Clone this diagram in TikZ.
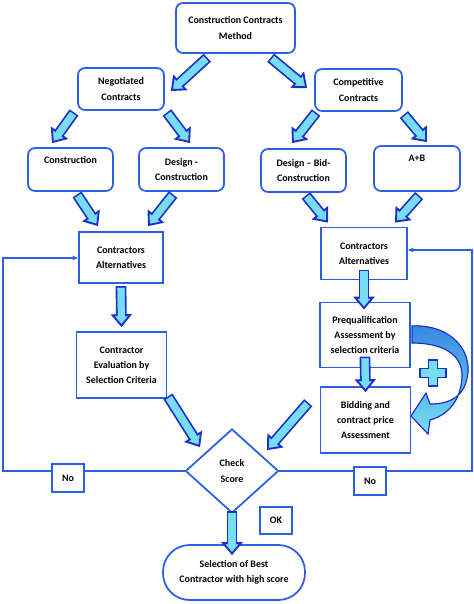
\documentclass[tikz,border=0pt]{standalone}
\usepackage{fontspec}
\setmainfont{Carlito}
\usetikzlibrary{arrows.meta,shapes.geometric}
\definecolor{boxblue}{RGB}{45,95,230}
\definecolor{arrblue}{RGB}{25,50,200}
\definecolor{arrcyan}{RGB}{120,220,242}
\definecolor{curvtop}{RGB}{55,135,225}

\begin{document}
\begin{tikzpicture}[x=0.03cm, y=-0.03cm,
		every node/.style={font=\fontsize{8.5}{13}\selectfont\bfseries, align=center, inner sep=1pt},
		box/.style={draw=boxblue, line width=1.5pt, fill=white, rectangle},
		rbox/.style={box, rounded corners=6pt},
		tag/.style={box, line width=1.2pt, minimum width=0.96cm, minimum height=0.84cm},
		blk/.style={draw=arrcyan, line width=6pt,
			-{Triangle[length=11pt, width=18pt, fill=arrcyan, color=arrblue, line width=1.6pt]},
			preaction={draw=arrblue, line width=9.2pt, -, shorten >=10pt, shorten <=-1.5pt},
			postaction={draw=arrcyan, line width=6pt, -, shorten >=8pt}},
		fb/.style={draw=boxblue, line width=1.2pt, -{Stealth[length=5pt, width=4pt]}}]
		\useasboundingbox (0,0) rectangle (474,604);
		
		\node[rbox, minimum width=3.57cm, minimum height=1.5cm] (top) at (235.5,28) {Construction Contracts\\Method};
		\node[rbox, minimum width=2.58cm, minimum height=1.26cm] (neg) at (121,89) {Negotiated\\Contracts};
		\node[rbox, minimum width=2.61cm, minimum height=1.26cm] (comp) at (358.5,90) {Competitive\\Contracts};
		\node[rbox, minimum width=2.55cm, minimum height=1.29cm] (cons) at (70.5,169.5) {Construction\\\strut};
		\node[rbox, minimum width=2.55cm, minimum height=1.29cm] (dc) at (181.5,169.5) {Design -\\Construction};
		\node[rbox, minimum width=2.55cm, minimum height=1.29cm] (dbc) at (303.5,170.5) {Design – Bid-\\Construction};
		\node[rbox, minimum width=2.58cm, minimum height=1.35cm] (ab) at (417,168.5) {A+B\\\strut};
		
		\node[box, minimum width=2.52cm, minimum height=1.53cm] (caL) at (121,257.5) {Contractors\\Alternatives};
		\node[box, minimum width=2.58cm, minimum height=1.56cm] (caR) at (364,253.5) {Contractors\\Alternatives};
		\node[box, minimum width=2.7cm, minimum height=1.98cm] (eval) at (121.5,365) {Contractor\\Evaluation by\\Selection Criteria};
		\node[box, minimum width=2.7cm, minimum height=1.95cm] (pq) at (365,335) {Prequalification\\Assessment by\\selection criteria};
		\node[box, minimum width=2.7cm, minimum height=1.98cm] (bid) at (365.5,420) {Bidding and\\contract price\\Assessment};
		\node[box, diamond, aspect=1.1, inner sep=0pt, minimum width=2.79cm, minimum height=2.52cm] (chk) at (232,471) {Check\\Score};
		\node[box, rounded corners=0.8cm, minimum width=4.26cm, minimum height=1.65cm] (sel) at (234,572.5) {Selection of Best\\Contractor with high score};
		
		\coordinate (railL) at (3,258);
		\coordinate (railR) at (472,250);
		\draw[fb] (chk.west) -| (railL) -- (railL -| caL.west);
		\draw[fb] (chk.east) -| (railR) -- (railR -| caR.east);
		
		\node[tag] (noL) at (68,478) {No};
		\node[tag] (noR) at (370,481) {No};
		\node[tag, minimum height=0.81cm] (ok) at (276,520.5) {OK};
		
		\draw[blk] ([shift={(-29.5,5)}]top.south) -- ([shift={(6,2)}]neg.east);
		\draw[blk] ([shift={(36.5,5)}]top.south) -- ([shift={(-7,-2)}]comp.west);
		\draw[blk] ([shift={(-48,3)}]neg.south) -- ([shift={(-18.5,-4)}]cons.north);
		\draw[blk] ([shift={(47,3)}]neg.south) -- ([shift={(8.5,-4)}]dc.north);
		\draw[blk] ([shift={(-43.5,2)}]comp.south) -- ([shift={(-11.5,-5)}]dbc.north);
		\draw[blk] ([shift={(46.5,4)}]comp.south) -- ([shift={(10,-3)}]ab.north);
		\draw[blk] ([shift={(7.5,4)}]cons.south) -- ([shift={(-23,-5)}]caL.north);
		\draw[blk] ([shift={(-9.5,4)}]dc.south) -- ([shift={(27,-5)}]caL.north);
		\draw[blk] ([shift={(3.5,4)}]dbc.south) -- ([shift={(-36,-4)}]caR.north);
		\draw[blk] ([shift={(1,5)}]ab.south) -- ([shift={(31,-4)}]caR.north);
		\draw[blk] ([shift={(0,4)}]caL.south) -- ([shift={(0,-4)}]eval.north);
		\draw[blk] ([shift={(0,-9)}]caR.south) -- ([shift={(-1,8)}]pq.north);
		\draw[blk] ([shift={(0,-10)}]pq.south) -- ([shift={(0,6)}]bid.north);
		\draw[blk] ([shift={(1.5,-1)}]eval.south east) -- ([shift={(-32,19)}]chk.north);
		\draw[blk] ([shift={(-12.5,-16)}]bid.west) -- ([shift={(35,22)}]chk.north);
		\draw[blk] ([shift={(0,-1)}]chk.south) -- ([shift={(-2,11)}]sel.north);
		
		\filldraw[draw=arrblue, line width=1pt, top color=curvtop, bottom color=arrcyan] (412,326) .. controls (445,324) and (470,345) .. (468,372) .. controls (466,395) and (452,404) .. (430,404) -- (426,393) -- (411,416) -- (428,434) -- (430,420) .. controls (452,414) and (462,395) .. (462,375) .. controls (462,356) and (445,343) .. (412,343) -- cycle;
		\draw[draw=arrblue, fill=arrcyan, line width=1.2pt, shift={(433,373)}] (-4.5,-13) -- (4.5,-13) -- (4.5,-4.5) -- (13,-4.5) -- (13,4.5) -- (4.5,4.5) -- (4.5,13) -- (-4.5,13) -- (-4.5,4.5) -- (-13,4.5) -- (-13,-4.5) -- (-4.5,-4.5) -- cycle;
\end{tikzpicture}
\end{document}
